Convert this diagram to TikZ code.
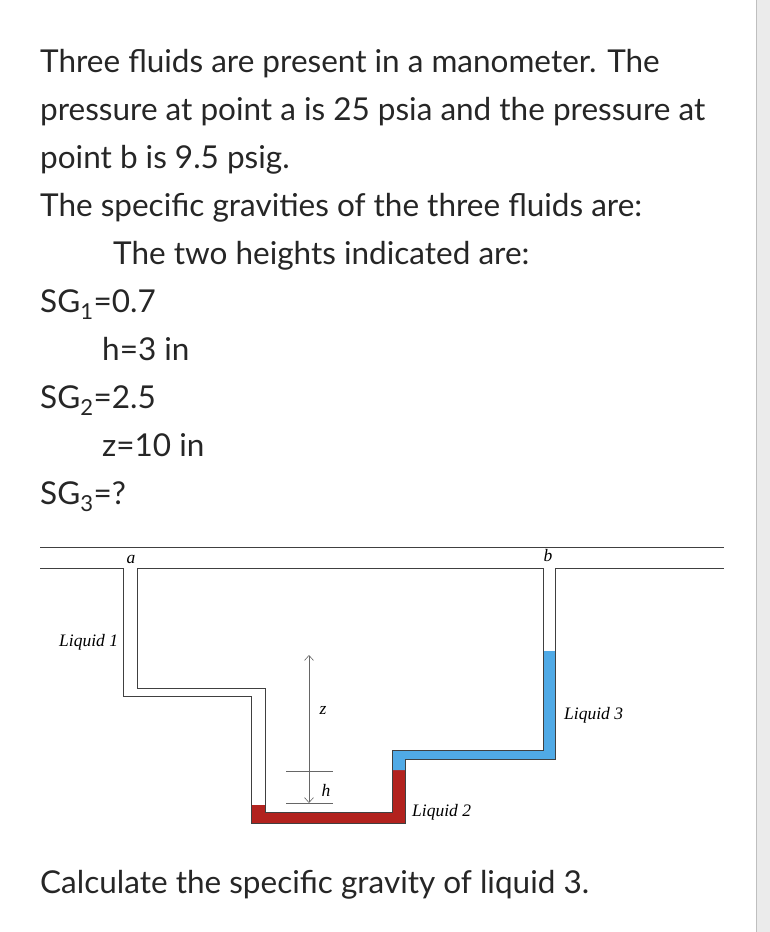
\documentclass[tikz,border=0pt]{standalone}
\usepackage{fontspec}
\setmainfont{Lato}
\newfontfamily\serifit{Liberation Serif}
\usetikzlibrary{arrows.meta}
\definecolor{redliq}{RGB}{178,34,30}
\definecolor{blueliq}{RGB}{80,170,230}
\begin{document}
\begin{tikzpicture}[x=1pt,y=-1pt,
  txt/.style={anchor=base west,inner sep=0pt,font=\fontsize{31.5}{36}\selectfont,text=black!85},
  lab/.style={inner sep=0pt,font=\serifit\itshape\fontsize{17.5}{19}\selectfont},
  wall/.style={draw=black!75,line width=0.7pt},
  dim/.style={draw=black!60,line width=0.6pt}]
\useasboundingbox (0,0) rectangle (770,932);
\fill[black!8] (756,0) rectangle (770,932);
\draw[black!25,line width=1pt] (756,0) -- (756,932);
\node[txt] (l1) at (40,72) {Three fluids are present in a manometer. The};
\node[txt] (l2) at (40,120) {pressure at point a is 25 psia and the pressure at};
\node[txt] (l3) at (40,168) {point b is 9.5 psig.};
\node[txt] (l4) at (40,216) {The specific gravities of the three fluids are:};
\node[txt] (l5) at (113,264) {The two heights indicated are:};
\node[txt] (l6) at (40,312) {SG\textsubscript{1}=0.7};
\node[txt] (l7) at (102,360) {h=3 in};
\node[txt] (l8) at (40,408) {SG\textsubscript{2}=2.5};
\node[txt] (l9) at (102,456) {z=10 in};
\node[txt] (l10) at (40,504) {SG\textsubscript{3}=?};
\node[txt] (l11) at (40,893) {Calculate the specific gravity of liquid 3.};
% fluids
\fill[redliq] (251,805) -- (265,805) -- (265,812) -- (392,812) -- (392,770) -- (405,770) -- (405,823) -- (251,823) -- cycle;
\fill[blueliq] (392,770) -- (392,750) -- (543,750) -- (543,651) -- (555,651) -- (555,759) -- (405,759) -- (405,770) -- cycle;
% walls
\draw[wall] (40,547) -- (724,547);
\draw[wall] (40,568) -- (123,568) -- (123,696) -- (251,696) -- (251,823) -- (405,823) -- (405,759) -- (555,759) -- (555,568) -- (724,568);
\draw[wall] (137,568) -- (543,568) -- (543,750) -- (392,750) -- (392,812) -- (265,812) -- (265,688) -- (137,688) -- cycle;
% dimension
\coordinate (zt) at (309,655);
\coordinate (zm) at (309,771);
\coordinate (hb) at (309,803);
\draw[dim,-{Straight Barb[length=5pt,width=9pt]}] (zm) -- (zt);
\draw[dim,-{Straight Barb[length=5pt,width=9pt]}] (zm) -- (hb);
\draw[dim] (286,771) -- (333,771);
\draw[dim] (286,803) -- (333,803);
\node[lab] (z) at (323,710) {z};
\node[lab] (h) at (326,790) {h};
\node[lab] (a) at (131,559) {a};
\node[lab] (b) at (548,556) {b};
\node[lab,anchor=west] (L1) at (59,642) {Liquid 1};
\node[lab,anchor=west] (L3) at (564,715) {Liquid 3};
\node[lab,anchor=west] (L2) at (412,812) {Liquid 2};
\end{tikzpicture}
\end{document}
